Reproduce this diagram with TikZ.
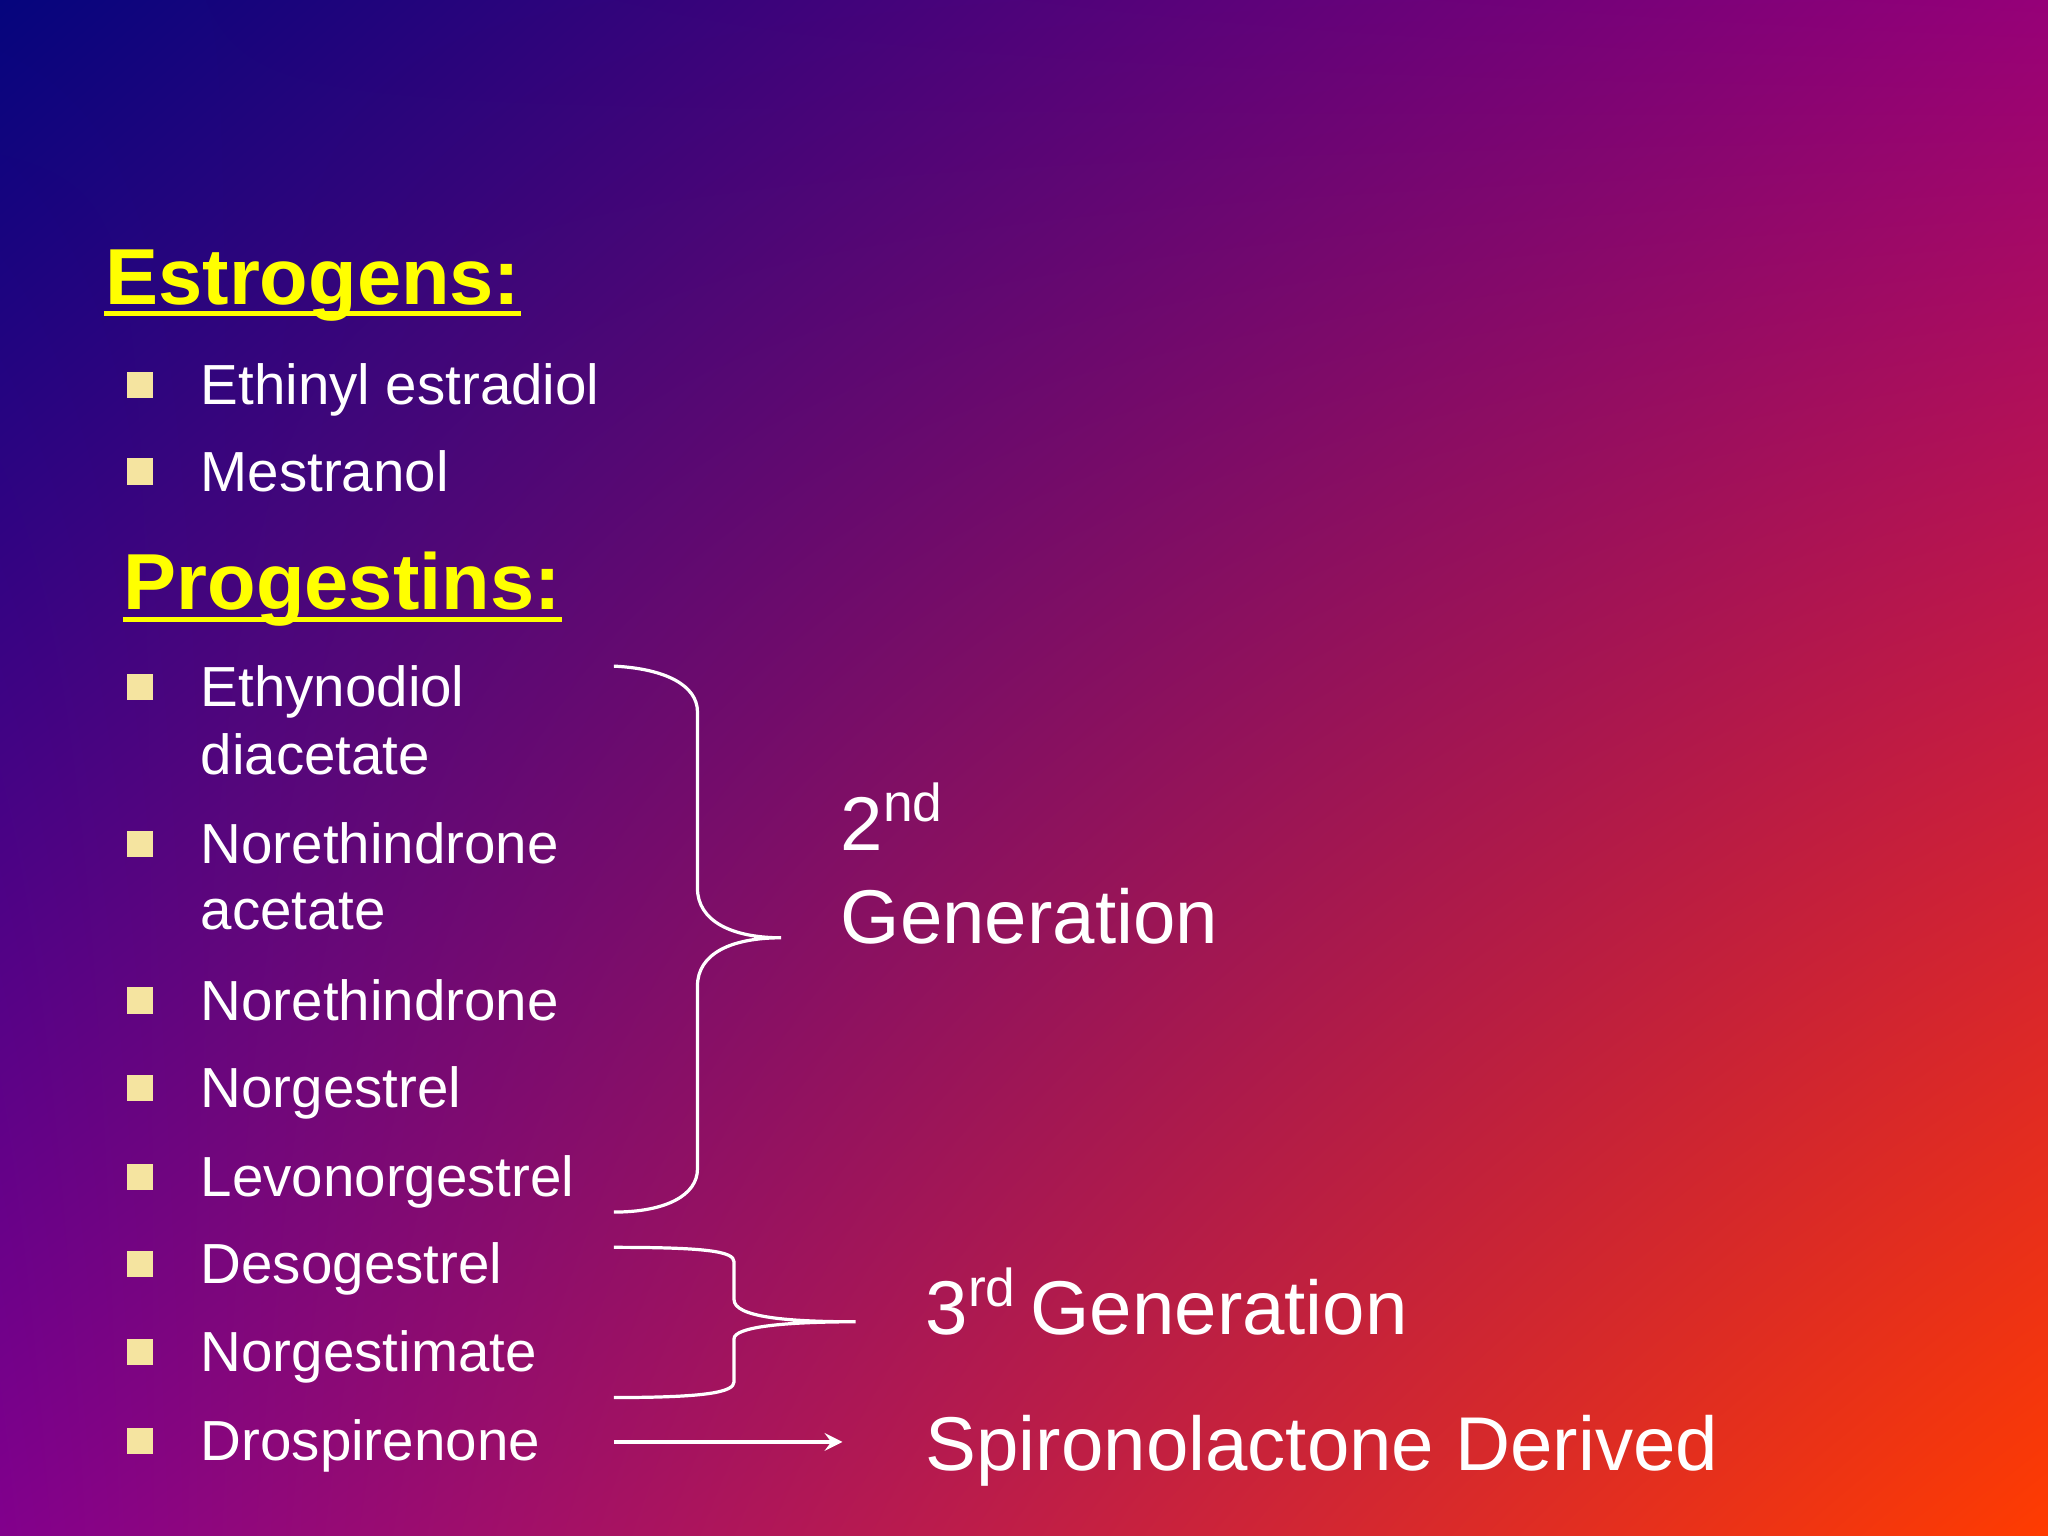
\documentclass[tikz,border=0pt]{standalone}
\usepackage{fontspec}
\setmainfont{Liberation Sans}
\usetikzlibrary{shadings}
\definecolor{navyc}{RGB}{5,5,125}
\definecolor{purpc}{RGB}{150,0,120}
\definecolor{lowl}{RGB}{130,0,140}
\definecolor{lowr}{RGB}{255,60,0}
\definecolor{bulc}{RGB}{245,228,160}
\definecolor{headc}{RGB}{255,255,0}
\begin{document}
\begin{tikzpicture}[x=0.01cm,y=-0.01cm,
  item/.style={anchor=base west,text=white,font=\fontsize{12.3}{14}\selectfont,inner sep=0pt},
  head/.style={anchor=base west,text=headc,font=\fontsize{17.3}{20}\selectfont\bfseries,inner sep=0pt},
  big/.style={anchor=base west,text=white,font=\fontsize{16.6}{19}\selectfont,inner sep=0pt},
  bul/.style={fill=bulc,draw=none,minimum size=0.2cm,inner sep=0pt},
  brace/.style={draw=white,line width=0.7pt},
  uline/.style={draw=headc,line width=1.1pt}]
\shade[upper left=navyc,upper right=purpc,lower left=lowl,lower right=lowr] (0,0) rectangle (1568,1176);
\useasboundingbox (0,0) rectangle (1568,1176);
\node[head] (h1) at (80,233) {Estrogens:};
\node[head] (h2) at (94,467) {Progestins:};
\draw[uline] ([yshift=-0.07cm]h1.base west) -- ([yshift=-0.07cm]h1.base east);
\draw[uline] ([yshift=-0.07cm]h2.base west) -- ([yshift=-0.07cm]h2.base east);
\foreach \y/\t/\n in {310/Ethinyl estradiol/a,376/Mestranol/b,541/Ethynodiol/c,661/Norethindrone/d,781/Norethindrone/e,848/Norgestrel/f,916/Levonorgestrel/g,983/Desogestrel/h,1050/Norgestimate/i,1118/Drospirenone/j}{
  \node[item] (t\n) at (153,\y) {\t};
  \node[bul] (b\n) at (107,\y-15) {};
}
\node[item] (c2) at (153,593) {diacetate};
\node[item] (d2) at (153,712) {acetate};
\node[big] (g2a) at (643,651) {2\textsuperscript{nd}};
\node[big] (g2b) at (643,722) {Generation};
\node[big] (g3) at (708,1022) {3\textsuperscript{rd}\,Generation};
\node[big] (sp) at (708,1126) {Spironolactone Derived};
\draw[brace] (470,510) .. controls (510,512) and (534,525) .. (534,545) -- (534,680)
  .. controls (534,705) and (560,718) .. (598,718)
  .. controls (560,718) and (534,730) .. (534,755) -- (534,895)
  .. controls (534,915) and (510,928) .. (470,928);
\draw[brace] (470,955) .. controls (540,955) and (562,958) .. (562,966) -- (562,995)
  .. controls (562,1008) and (600,1012) .. (655,1012)
  .. controls (600,1012) and (562,1016) .. (562,1025) -- (562,1058)
  .. controls (562,1066) and (540,1070) .. (470,1070);
\coordinate (as) at (470,1104);
\coordinate (ae) at (645,1104);
\draw[white,line width=0.7pt,-stealth] (as) -- (ae);
\end{tikzpicture}
\end{document}
